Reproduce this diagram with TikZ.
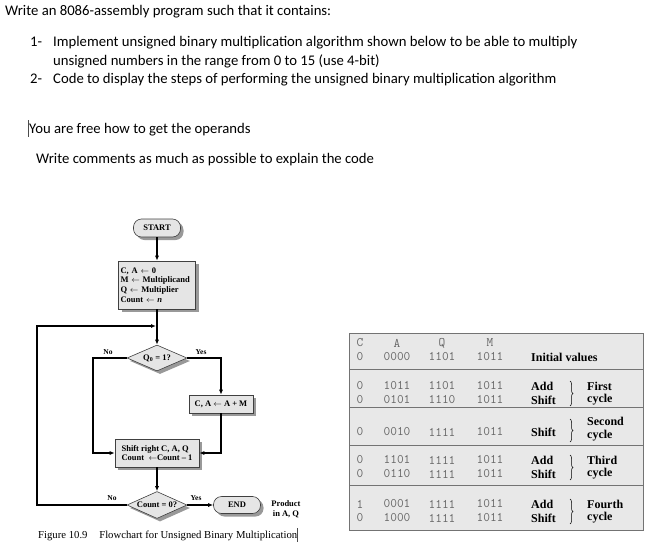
\documentclass[tikz,border=0pt]{standalone}
\usepackage{fontspec}
\setmainfont{Liberation Serif}
\newfontfamily\docfont{Carlito}
\usetikzlibrary{shapes.geometric,shadows,decorations.pathreplacing,arrows.meta}

\tikzset{
    plain/.style={anchor=base west, inner sep=0pt, font=\docfont\fontsize{14.7}{16}\selectfont},
    process/.style={draw=black!75, fill=black!10, line width=0.6pt,
        drop shadow={shadow xshift=3pt, shadow yshift=-3pt, fill=black!40, opacity=1},
        font=\bfseries\fontsize{8.5}{9.7}\selectfont, inner sep=2pt},
    terminal/.style={process, rounded corners=8pt},
    decision/.style={process, diamond, aspect=2.3, inner sep=0.5pt},
    flowline/.style={line width=1.4pt, -{Latex[length=5pt,width=4pt]}},
    yesno/.style={font=\bfseries\fontsize{7.5}{8}\selectfont, inner sep=0pt},
    gridline/.style={draw=black!55, line width=0.7pt},
    numtext/.style={font=\ttfamily\fontsize{13}{14}\selectfont, text=black!60, inner sep=0pt},
    rowlabel/.style={font=\bfseries\fontsize{12}{13}\selectfont, inner sep=0pt, anchor=west},
    cyclebrace/.style={decorate, decoration={brace, amplitude=3pt}, line width=0.5pt},
}

\begin{document}
\begin{tikzpicture}[x=1pt, y=-1pt]
        \useasboundingbox (0,0) rectangle (648,546);

        % Assignment text
        \node[plain] (title) at (5,16) {Write an 8086-assembly program such that it contains:};
        \node[plain] (n1) at (30,46) {1-};
        \node[plain] (i1) at (53,46) {Implement unsigned binary multiplication algorithm shown below to be able to multiply};
        \node[plain] (i1b) at (53,65) {unsigned numbers in the range from 0 to 15 (use 4-bit)};
        \node[plain] (n2) at (30,83) {2-};
        \node[plain] (i2) at (53,83) {Code to display the steps of performing the unsigned binary multiplication algorithm};
        \node[plain] (free) at (29,133) {You are free how to get the operands};
        \node[plain] (note) at (36,163) {Write comments as much as possible to explain the code};
        \draw[line width=0.6pt, black!70] (28,120) -- (28,137);

        % Flowchart
        \node[terminal, minimum width=47pt, minimum height=18pt] (start) at (157,228) {START};
        \node[process, text width=73pt, align=left, minimum height=48pt] (init) at (157,285)
            {C, A $\leftarrow$ 0\\ M $\leftarrow$ Multiplicand\\ Q $\leftarrow$ Multiplier\\ Count $\leftarrow$ \textit{n}};
        \node[decision, minimum width=60pt, minimum height=26pt] (qtest) at (157,358) {Q\textsubscript{0} = 1?};
        \node[process, minimum width=64pt, minimum height=18pt] (add) at (221,404) {C, A $\leftarrow$ A + M};
        \node[process, align=left, minimum width=84pt, minimum height=28pt] (shift) at (157,453)
            {Shift right C, A, Q\\ Count \ $\leftarrow$Count -- 1};
        \node[decision, minimum width=60pt, minimum height=27pt] (ctest) at (157,505) {Count = 0?};
        \node[terminal, minimum width=47pt, minimum height=17pt] (stop) at (237,505) {END};
        \node[yesno, font=\bfseries\fontsize{8.5}{10}\selectfont, align=center] (prod) at (286,509) {Product\\ in A, Q};

        \node[yesno] (no1) at (108,352) {No};
        \node[yesno] (yes1) at (201,352) {Yes};
        \node[yesno] (no2) at (112,498) {No};
        \node[yesno] (yes2) at (196,498) {Yes};

        \coordinate (loopL) at (37,326);
        \coordinate (loopR) at (156,326);
        \coordinate (noL) at (93,358);
        \draw[flowline] (start) -- (init);
        \draw[flowline] (init) -- (qtest);
        \draw[flowline] (qtest.west) -- (noL) |- (shift.west);
        \draw[flowline] (qtest.east) -| (add.north);
        \draw[flowline] (add.south) |- (shift.east);
        \draw[flowline] (shift) -- (ctest);
        \draw[flowline] (ctest.west) -| (loopL) -- (loopR);
        \draw[flowline] (ctest) -- (stop);

        \node[anchor=base west, inner sep=0pt, font=\fontsize{10.7}{12}\selectfont] (caption) at (38,538)
            {Figure 10.9\hspace{1.1em}Flowchart for Unsigned Binary Multiplication};
        \draw[line width=0.6pt, black!70] (297,528) -- (297,542);

        % Table of register contents
        \draw[gridline, fill=black!9] (349,333) rectangle (643,530);
        \foreach \y in {369,407,445,485}
            \draw[gridline] (349,\y) -- (643,\y);
        \foreach \name/\x in {C/360,A/397,Q/442,M/490}
            \node[numtext] (h\name) at (\x,343) {\name};
        \foreach \c/\a/\q/\m/\y [count=\r] in {0/0000/1101/1011/357, 0/1011/1101/1011/386,
                0/0101/1110/1011/400, 0/0010/1111/1011/432, 0/1101/1111/1011/460,
                0/0110/1111/1011/474, 1/0001/1111/1011/504, 0/1000/1111/1011/518} {
            \node[numtext] (c\r) at (360,\y) {\c};
            \node[numtext] (a\r) at (397,\y) {\a};
            \node[numtext] (q\r) at (442,\y) {\q};
            \node[numtext] (m\r) at (490,\y) {\m};
        }

        % Step labels and braces
        \node[rowlabel] (initial) at (531,357) {Initial values};
        \foreach \op/\y [count=\k] in {Add/386, Shift/400, Shift/432, Add/460, Shift/474, Add/504, Shift/518}
            \node[rowlabel] (op\k) at (531,\y) {\op};
        \foreach \ya/\yb in {381/406, 419/442, 455/480, 499/524}
            \draw[cyclebrace] (570,\ya) -- (570,\yb);
        \foreach \txt/\y [count=\k] in {First/386, cycle/400, Second/421, cycle/436, Third/460, cycle/474, Fourth/504, cycle/518}
            \node[rowlabel] (cy\k) at (587,\y) {\txt};
\end{tikzpicture}
\end{document}
